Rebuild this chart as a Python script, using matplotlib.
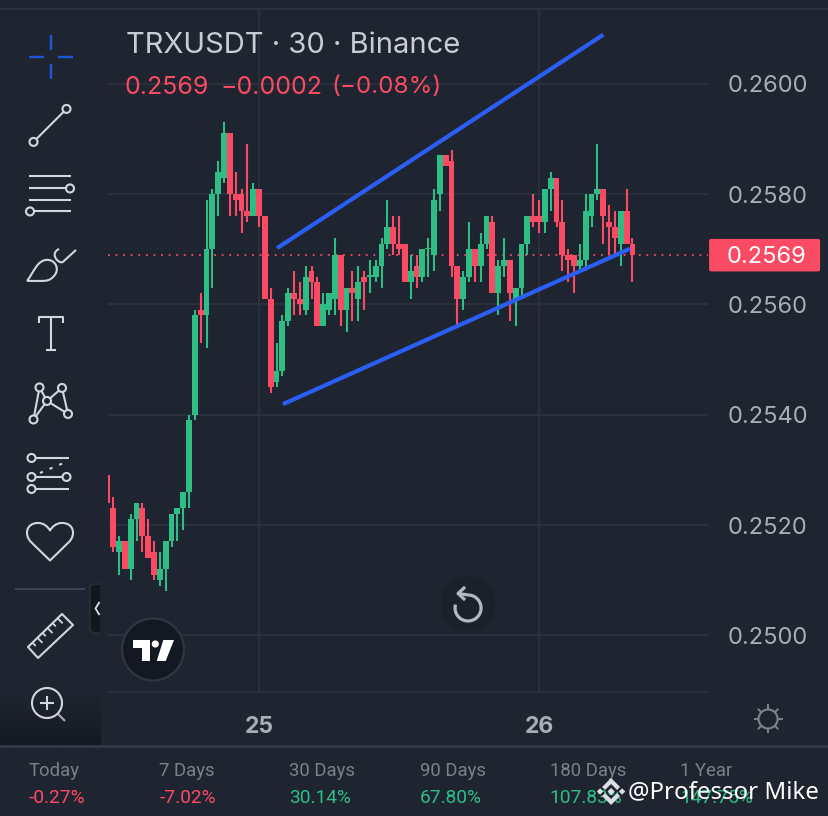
import matplotlib
matplotlib.use('Agg')
import matplotlib.pyplot as plt
import matplotlib.patches as patches
from matplotlib.path import Path
import numpy as np

# candle prices, in units of 0.0001
candle_idx = list(range(-26, 65))
opens = [2529, 2523, 2515, 2517, 2512, 2521, 2523, 2518, 2515, 2510, 2512, 2517, 2522,
         2523, 2526, 2540, 2559, 2558, 2570, 2580, 2583, 2591, 2580, 2580, 2577, 2576,
         2581, 2576, 2561, 2546, 2548, 2557, 2562, 2561, 2559, 2566, 2564, 2556, 2559,
         2561, 2569, 2559, 2563, 2561, 2565, 2565, 2565, 2567, 2571, 2574, 2571, 2571,
         2564, 2567, 2565, 2570, 2569, 2580, 2587, 2586, 2567, 2561, 2565, 2570, 2567,
         2571, 2575, 2562, 2567, 2568, 2561, 2563, 2571, 2576, 2576, 2575, 2581, 2583,
         2575, 2569, 2569, 2567, 2568, 2576, 2580, 2581, 2575, 2574, 2571, 2577, 2571]
closes = [2524, 2516, 2517, 2512, 2521, 2524, 2518, 2514, 2511, 2512, 2517, 2522, 2523,
          2526, 2539, 2558, 2558, 2570, 2580, 2584, 2591, 2580, 2579, 2577, 2576, 2581,
          2576, 2561, 2545, 2548, 2557, 2562, 2561, 2560, 2565, 2564, 2556, 2560, 2562,
          2569, 2559, 2563, 2562, 2564, 2564, 2565, 2567, 2571, 2574, 2571, 2570, 2564,
          2566, 2565, 2570, 2570, 2579, 2587, 2585, 2567, 2561, 2565, 2570, 2567, 2571,
          2576, 2562, 2567, 2568, 2562, 2563, 2571, 2576, 2575, 2575, 2581, 2583, 2575,
          2569, 2568, 2567, 2568, 2577, 2580, 2581, 2576, 2574, 2572, 2577, 2571, 2569]
highs = [2529, 2525, 2518, 2517, 2522, 2524, 2524, 2521, 2517, 2515, 2517, 2522, 2523,
         2526, 2540, 2559, 2562, 2579, 2581, 2586, 2593, 2591, 2584, 2581, 2589, 2582,
         2581, 2576, 2563, 2553, 2558, 2563, 2566, 2564, 2567, 2567, 2565, 2562, 2562,
         2572, 2569, 2563, 2566, 2567, 2566, 2568, 2568, 2572, 2579, 2576, 2576, 2571,
         2569, 2569, 2570, 2572, 2581, 2587, 2587, 2588, 2567, 2566, 2575, 2570, 2573,
         2576, 2576, 2568, 2572, 2568, 2563, 2571, 2576, 2580, 2579, 2581, 2584, 2583,
         2579, 2570, 2569, 2571, 2580, 2580, 2589, 2581, 2578, 2577, 2577, 2581, 2572]
lows = [2522, 2515, 2511, 2512, 2510, 2517, 2515, 2514, 2510, 2509, 2508, 2516, 2517,
        2519, 2523, 2539, 2553, 2552, 2563, 2576, 2582, 2576, 2576, 2573, 2575, 2576,
        2574, 2561, 2544, 2545, 2547, 2556, 2558, 2558, 2558, 2561, 2556, 2556, 2558,
        2558, 2556, 2555, 2557, 2557, 2559, 2562, 2564, 2563, 2570, 2569, 2569, 2564,
        2561, 2563, 2564, 2565, 2566, 2577, 2585, 2565, 2556, 2559, 2564, 2564, 2564,
        2570, 2562, 2558, 2565, 2557, 2556, 2561, 2569, 2574, 2573, 2573, 2577, 2574,
        2566, 2564, 2562, 2566, 2566, 2574, 2579, 2571, 2569, 2569, 2567, 2571, 2564]

# trendlines drawn on the chart (candle index, price)
upper_line_x = [3.1, 59.0]
upper_line_p = [0.25702, 0.26089]
lower_line_x = [4.1, 63.6]
lower_line_p = [0.25419, 0.25701]

last_price = 0.2569
price_ticks = [0.2500, 0.2520, 0.2540, 0.2560, 0.2580, 0.2600]
day_ticks = [0, 48]
day_labels = ['25', '26']

period_names = ['Today', '7 Days', '30 Days', '90 Days', '180 Days', '1 Year']
period_values = ['-0.27%', '-7.02%', '30.14%', '67.80%', '107.83%', '147.75%']

BG = '#1f2530'
GRID = '#2b313c'
GREEN = '#2ebd85'
RED = '#fb4a64'
BLUE = '#2a5ef5'
ICON = '#d3d6dc'
plt.rcParams['font.family'] = ['Inter', 'DejaVu Sans']

fig = plt.figure(figsize=(8.281, 8.161), dpi=100, facecolor=BG)
W, H = 828., 816.

# chart area
ax = fig.add_axes([108 / W, 1 - 692 / H, 600 / W, 682 / H], facecolor=BG)
ax.set_xlim(-25.89, 76.97)
ax.set_ylim(0.24897, 0.26134)
for s in ax.spines.values():
    s.set_visible(False)
ax.yaxis.tick_right()
ax.set_yticks(price_ticks)
ax.set_yticklabels(['%.4f' % p for p in price_ticks])
ax.tick_params(axis='y', length=0, pad=14.4, labelsize=17, labelcolor='#a9adb5')
ax.set_xticks(day_ticks)
ax.set_xticklabels(day_labels, fontweight='bold')
ax.tick_params(axis='x', length=0, pad=17, labelsize=16.5, labelcolor='#a9adb5')
ax.grid(True, color=GRID, lw=1.4)
ax.set_axisbelow(True)

o = np.array(opens) / 1e4
c = np.array(closes) / 1e4
h = np.array(highs) / 1e4
l = np.array(lows) / 1e4
x = np.array(candle_idx)
colors = [GREEN if cl >= op else RED for op, cl in zip(o, c)]

ax.axhline(last_price, color=RED, lw=1.3, ls=(0, (1, 3.2)), zorder=1.5)
ax.vlines(x, l, h, colors=colors, lw=1.5, zorder=2)
ax.bar(x, np.maximum(np.abs(c - o), 0.00003), bottom=np.minimum(o, c), width=1.0,
       color=colors, linewidth=0, zorder=3)
ax.plot(upper_line_x, upper_line_p, color=BLUE, lw=3, solid_capstyle='butt', zorder=4)
ax.plot(lower_line_x, lower_line_p, color=BLUE, lw=3, solid_capstyle='butt', zorder=4)

# everything else sits in pixel coordinates
ui = fig.add_axes([0, 0, 1, 1], facecolor='none')
ui.set_xlim(0, W)
ui.set_ylim(H, 0)
ui.axis('off')


def seg(xs, ys, color=ICON, lw=1.5, **kw):
    ui.plot(xs, ys, color=color, lw=lw, solid_capstyle=kw.pop('cap', 'butt'), **kw)


def ring(cx, cy, r=4., color=ICON, lw=1.5, fc=BG):
    ui.add_patch(patches.Circle((cx, cy), r, fc=fc, ec=color, lw=lw, zorder=5))


def curve(verts, codes, **kw):
    ui.add_patch(patches.PathPatch(Path(verts, codes), **kw))


M, L, C4, Z = Path.MOVETO, Path.LINETO, Path.CURVE4, Path.CLOSEPOLY

# frame lines
seg([0, W], [9.5, 9.5], color=GRID, lw=1.4)
seg([108, 708], [692.5, 692.5], color=GRID, lw=1.4)
seg([0, W], [746.5, 746.5], color='#353b48', lw=1.8)

# dark fade at the bottom of the tool panel
fade = np.linspace(0, 1, 40).reshape(-1, 1)
ui.imshow(fade, extent=(0, 100, 745, 695), cmap=matplotlib.colors.LinearSegmentedColormap.from_list(
    'fade', [BG, '#151922']), aspect='auto', zorder=0)
ui.set_xlim(0, W)
ui.set_ylim(H, 0)

# header
ui.text(126, 45.5, 'TRXUSDT · 30 · Binance', fontsize=21, color='#c9ccd6', va='center', ha='left')
ui.text(124, 87, '0.2569', fontsize=18, color=RED, va='center', ha='left')
ui.text(220, 87, '−0.0002', fontsize=18, color=RED, va='center', ha='left')
ui.text(331, 87, '(−0.08%)', fontsize=17.4, color=RED, va='center', ha='left')

# last price tag
ui.add_patch(patches.FancyBboxPatch((709, 239), 111, 32.5, boxstyle='round,pad=0,rounding_size=2',
                                    fc=RED, ec='none'))
ui.text(806, 256.5, '%.4f' % last_price, fontsize=17, color='white', va='center', ha='right')

# crosshair tool
seg([51, 51], [35, 50], color='#1f55d8', lw=1.7)
seg([51, 51], [64, 79], color='#1f55d8', lw=1.7)
seg([29, 44], [57, 57], color='#1f55d8', lw=1.7)
seg([58, 73], [57, 57], color='#1f55d8', lw=1.7)

# line tool
seg([33.5, 66.5], [142, 109])
ring(33.5, 142)
ring(66.5, 109)

# parallel lines tool
seg([29, 71], [176.5, 176.5])
seg([29, 70], [188.5, 188.5])
ring(70, 188.5)
seg([29, 71], [200, 200])
seg([30, 71], [211.5, 211.5])
ring(30, 211.5)

# brush
curve([(27, 281), (34, 272), (37, 261), (46, 260), (56, 259), (60, 270), (54, 276),
       (50, 281), (46, 281), (40, 281), (27, 281)],
      [M, C4, C4, C4, C4, C4, C4, C4, C4, L, L], fc='none', ec=ICON, lw=1.5)
curve([(59, 249), (53, 252), (54, 257), (57, 260), (60, 263), (62, 263), (64, 261), (76, 250)],
      [M, C4, C4, C4, C4, C4, C4, L], fc='none', ec=ICON, lw=1.5)

# text tool
seg([39, 39, 63, 63], [323, 317, 317, 323])
seg([51, 51], [317, 350])
seg([46, 56], [350, 350])

# nodes tool
nodes_x = [33.5, 39.5, 47, 62, 68]
nodes_y = [419.5, 387.5, 401, 388, 414]
seg([33.5, 39.5, 47, 62, 68], [419.5, 387.5, 401, 388, 414])
seg([33.5, 47, 68], [419.5, 401, 414])
for nx, ny in zip(nodes_x, nodes_y):
    ring(nx, ny)

# fib tool
seg([31, 69], [458, 458])
ring(31.5, 458)
ui.plot([40, 66], [473, 462], color=ICON, lw=1.5, ls=(0, (1.5, 3.5)))
seg([31, 66], [477, 477])
ring(31.5, 477)
ring(66.5, 477)
seg([31, 69], [489, 489])
ring(31.5, 489)

# heart
curve([(50, 560.5), (31, 542), (24, 535), (26, 523), (38, 523), (44, 523), (48, 527), (50, 530.5),
       (52, 527), (56, 523), (62, 523), (74, 523), (76, 535), (69, 542), (50, 560.5)],
      [M, L, C4, C4, C4, C4, C4, C4, C4, C4, C4, C4, C4, C4, Z],
      fc='none', ec=ICON, lw=1.5, joinstyle='round')

seg([15, 85], [589, 589], color='#3d4350', lw=1.4)

# collapse tab
ui.add_patch(patches.FancyBboxPatch((90, 584), 14, 49, boxstyle='round,pad=0,rounding_size=5',
                                    fc='#14171e', ec='#2b313c', lw=1))
ui.add_patch(patches.Rectangle((100, 580), 8, 56, fc=BG, ec='none'))
seg([99.5, 95.5, 99.5], [602, 608.5, 615], color=ICON, lw=1.4)

# ruler
ui.add_patch(patches.Polygon([(28, 647), (62, 614), (73, 625), (38, 658)], closed=True,
                             fc='none', ec=ICON, lw=1.5, joinstyle='round'))
for k, t in enumerate(np.linspace(0.13, 0.87, 6)):
    bx, by = 28 + 34 * t, 647 - 33 * t
    d = 7 if k % 2 else 4.5
    seg([bx, bx + d * 0.72], [by, by + d * 0.72], lw=1.3)

# magnifier
ring(47, 703, r=15, fc='none')
seg([58, 65], [714, 721], color='#a9adb5', lw=1.5)
seg([40, 54], [703, 703])
seg([47, 47], [696, 710])

# tradingview badge
ui.add_patch(patches.Circle((153, 649.5), 31, fc='#141822', ec='#2f3542', lw=1.6, zorder=6))
ui.add_patch(patches.Polygon([(132.7, 640), (150, 640), (150, 661), (141.7, 661), (141.7, 648.3),
                              (132.7, 648.3)], closed=True, fc='white', ec='none', zorder=7))
ui.add_patch(patches.Circle((155.3, 644), 3.6, fc='white', ec='none', zorder=7))
ui.add_patch(patches.Polygon([(163.3, 640), (174, 640), (165.7, 661), (156.7, 661)], closed=True,
                             fc='white', ec='none', zorder=7))

# reset view button
ui.add_patch(patches.Circle((468, 604), 27, fc='#1b2029', ec='none', zorder=6))
ang = np.radians(np.linspace(-90, 195, 60))
seg(468 + 13 * np.cos(ang), 608 + 13 * np.sin(ang), color='#b4b8c1', lw=2.3, zorder=7)
seg([465, 458, 465], [587, 593.5, 600], color='#b4b8c1', lw=2.3, zorder=7)
seg([458, 468], [593.5, 595], color='#b4b8c1', lw=2.3, zorder=7)

# sun icon
ring(768, 719, r=9.5, color='#7d828c', fc='none')
for a in np.arange(0, 360, 45):
    ca, sa = np.cos(np.radians(a)), np.sin(np.radians(a))
    seg([768 + 10 * ca, 768 + 14.5 * ca], [719 + 10 * sa, 719 + 14.5 * sa], color='#7d828c', lw=1.4)

# period stats
for k, (name, val) in enumerate(zip(period_names, period_values)):
    px = 29 + 130.2 * k
    ui.text(px, 771, name, fontsize=13.3, color='#7b808a', family=['Roboto'], va='center', ha='left')
    vc = RED if val.startswith('-') else GREEN
    ui.text(px, 797.5, val, fontsize=13.8, color=vc, family=['Roboto'], va='center', ha='left')

# watermark
LOGO = '#dcdde0'
ui.add_patch(patches.Polygon([(611, 778), (620, 787), (617, 790), (611, 784), (605, 790), (602, 787)],
                             closed=True, fc=LOGO, ec='none', zorder=8))
ui.add_patch(patches.Polygon([(611, 805), (620, 796), (617, 793), (611, 799), (605, 793), (602, 796)],
                             closed=True, fc=LOGO, ec='none', zorder=8))
for mx, r in [(600, 3.2), (622, 3.2), (611, 3.6)]:
    ui.add_patch(patches.Polygon([(mx, 791.5 - r), (mx + r, 791.5), (mx, 791.5 + r), (mx - r, 791.5)],
                                 closed=True, fc=LOGO, ec='none', zorder=8))
ui.text(628, 792.5, '@Professor Mike', fontsize=17.3, color='white', family=['Noto Sans'], va='center', ha='left', zorder=9)

fig.savefig('out.png', dpi=100, facecolor=BG)
